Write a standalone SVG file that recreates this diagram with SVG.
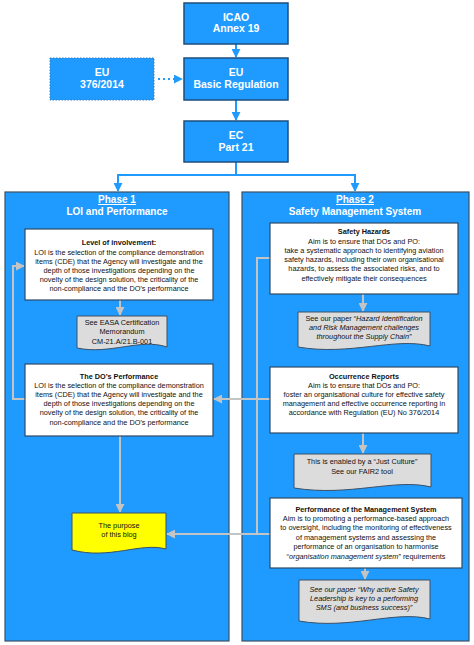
<svg xmlns="http://www.w3.org/2000/svg" width="474" height="645" viewBox="0 0 474 645">
<defs>
<style>
.top{fill:#1f9bff;stroke:#1d4e7c;stroke-width:1.5}
.panel{fill:#1f9bff;stroke:#3b5066;stroke-width:1.2}
.box{fill:#ffffff;stroke:#2e4a66;stroke-width:1.2}
.doc{fill:#dcdcdc;stroke:#3b5066;stroke-width:1}
.ydoc{fill:#ffff00;stroke:#3b5066;stroke-width:1}
.tw{font-family:"Liberation Sans",Arial,sans-serif;font-size:10.5px;font-weight:bold;fill:#ffffff;text-anchor:middle}
.tp{font-family:"Liberation Sans",Arial,sans-serif;font-size:10px;font-weight:bold;fill:#ffffff;text-anchor:middle}
.t{font-family:"Liberation Sans",Arial,sans-serif;font-size:7.3px;fill:#111111;text-anchor:middle}
.b{font-weight:bold}
.i{font-style:italic}
.blue{fill:none;stroke:#1f9bff;stroke-width:2}
.grey{fill:none;stroke:#c4c4c4;stroke-width:2}
</style>
<marker id="ab" viewBox="0 0 10 10" refX="9" refY="5" markerWidth="4.5" markerHeight="4.5" orient="auto" markerUnits="strokeWidth"><path d="M0,0 L10,5 L0,10 z" fill="#1f9bff"/></marker>
<marker id="ag" viewBox="0 0 10 10" refX="9" refY="5" markerWidth="4.5" markerHeight="4.5" orient="auto" markerUnits="strokeWidth"><path d="M0,0 L10,5 L0,10 z" fill="#c4c4c4"/></marker>
</defs>

<g id="phase1">
<rect class="panel" x="5" y="192" width="224" height="449"/>
<text class="tp" x="117" y="203" text-decoration="underline">Phase 1</text>
<text class="tp" x="117" y="215">LOI and Performance</text>
</g>
<g id="phase2">
<rect class="panel" x="242" y="192" width="227" height="449"/>
<text class="tp" x="355" y="203" text-decoration="underline">Phase 2</text>
<text class="tp" x="355" y="215">Safety Management System</text>
</g>

<g id="connectors">
<path class="blue" d="M236,44 V57" marker-end="url(#ab)"/>
<path class="blue" d="M236,100 V120" marker-end="url(#ab)"/>
<path class="blue" d="M158,79 H182" stroke-dasharray="2,3" marker-end="url(#ab)"/>
<path class="blue" d="M236,162 V175 H118 V191" marker-end="url(#ab)"/>
<path class="blue" d="M236,175 H355 V191" marker-end="url(#ab)"/>
<path class="grey" d="M120,300 V315" marker-end="url(#ag)"/>
<path class="grey" d="M120,436 V512" marker-end="url(#ag)"/>
<path class="grey" d="M25,399 H13 V266 H24" marker-end="url(#ag)"/>
<path class="grey" d="M363,294 V311" marker-end="url(#ag)"/>
<path class="grey" d="M363,433 V453" marker-end="url(#ag)"/>
<path class="grey" d="M365,568 V579" marker-end="url(#ag)"/>
<path class="grey" d="M270,258 H257 V534"/>
<path class="grey" d="M270,399 H214" marker-end="url(#ag)"/>
<path class="grey" d="M270,534 H167" marker-end="url(#ag)"/>
</g>

<g id="icao">
<rect class="top" x="184" y="3" width="104" height="41"/>
<text class="tw" x="236" y="21">ICAO</text>
<text class="tw" x="236" y="32">Annex 19</text>
</g>
<g id="eu-basic">
<rect class="top" x="184" y="58" width="104" height="42"/>
<text class="tw" x="236" y="76">EU</text>
<text class="tw" x="236" y="88">Basic Regulation</text>
</g>
<g id="eu-376">
<rect x="50" y="58" width="104" height="42" fill="#1f9bff" stroke="#3a7fc0" stroke-width="1" stroke-dasharray="1.5,1.5"/>
<text class="tw" x="102" y="76">EU</text>
<text class="tw" x="102" y="88">376/2014</text>
</g>
<g id="ec-part21">
<rect class="top" x="184" y="121" width="104" height="41"/>
<text class="tw" x="236" y="139">EC</text>
<text class="tw" x="236" y="151">Part 21</text>
</g>

<g id="level">
<rect class="box" x="25" y="229" width="188" height="71"/>
<text class="t b" x="119" y="244.5">Level of involvement:</text>
<text class="t" x="119" y="254.5">LOI is the selection of the compliance demonstration</text>
<text class="t" x="119" y="263.5">items (CDE) that the Agency will investigate and the</text>
<text class="t" x="119" y="272.5">depth of those investigations depending on the</text>
<text class="t" x="119" y="281.5">novelty of the design solution, the criticality of the</text>
<text class="t" x="119" y="291">non-compliance and the DO’s performance</text>
</g>
<g id="cm-doc">
<path class="doc" d="M77,316 H167 V347 C140,338 110,355 77,348 Z"/>
<text class="t" x="122" y="324.5">See EASA Certification</text>
<text class="t" x="122" y="334">Memorandum</text>
<text class="t" x="122" y="343.5">CM-21.A/21.B-001</text>
</g>
<g id="do-perf">
<rect class="box" x="25" y="364" width="188" height="72"/>
<text class="t b" x="119" y="378.5">The DO’s Performance</text>
<text class="t" x="119" y="387.5">LOI is the selection of the compliance demonstration</text>
<text class="t" x="119" y="396.5">items (CDE) that the Agency will investigate and the</text>
<text class="t" x="119" y="406">depth of those investigations depending on the</text>
<text class="t" x="119" y="415">novelty of the design solution, the criticality of the</text>
<text class="t" x="119" y="425">non-compliance and the DO’s performance</text>
</g>
<g id="purpose">
<path class="ydoc" d="M72,513 H166 V549 C140,542 110,560 72,550 Z"/>
<text class="t" x="119" y="527.5">The purpose</text>
<text class="t" x="119" y="536.5">of this blog</text>
</g>

<g id="safety-hazards">
<rect class="box" x="270" y="223" width="188" height="71"/>
<text class="t b" x="364" y="233.5">Safety Hazards</text>
<text class="t" x="364" y="243.5">Aim is to ensure that DOs and PO:</text>
<text class="t" x="364" y="252.5">take a systematic approach to identifying aviation</text>
<text class="t" x="364" y="261.5">safety hazards, including their own organisational</text>
<text class="t" x="364" y="271">hazards, to assess the associated risks, and to</text>
<text class="t" x="364" y="280.5">effectively mitigate their consequences</text>
</g>
<g id="hazard-doc">
<path class="doc" d="M298,312 H430 V346 C395,337 350,356 298,347 Z"/>
<text class="t" x="364" y="320.5">See our paper “<tspan class="i">Hazard Identification</tspan></text>
<text class="t i" x="364" y="329.5">and Risk Management challenges</text>
<text class="t i" x="364" y="339">throughout the Supply Chain”</text>
</g>
<g id="occurrence">
<rect class="box" x="270" y="367" width="188" height="66"/>
<text class="t b" x="364" y="378.5">Occurrence Reports</text>
<text class="t" x="364" y="387.5">Aim is to ensure that DOs and PO:</text>
<text class="t" x="364" y="396.5">foster an organisational culture for effective safety</text>
<text class="t" x="364" y="406">management and effective occurrence reporting in</text>
<text class="t" x="364" y="415">accordance with Regulation (EU) No 376/2014</text>
</g>
<g id="just-culture-doc">
<path class="doc" d="M294,454 H431 V487 C395,478 350,497 294,488 Z"/>
<text class="t" x="362" y="463.5">This is enabled by a “Just Culture”</text>
<text class="t" x="362" y="473.5">See our FAIR2 tool</text>
</g>
<g id="performance-ms">
<rect class="box" x="270" y="498" width="192" height="70"/>
<text class="t b" x="366" y="511.5">Performance of the Management System</text>
<text class="t" x="366" y="520.5">Aim is to promoting a performance-based approach</text>
<text class="t" x="366" y="530">to oversight, including the monitoring of effectiveness</text>
<text class="t" x="366" y="539.5">of management systems and assessing the</text>
<text class="t" x="366" y="549">performance of an organisation to harmonise</text>
<text class="t" x="366" y="558.5">“<tspan class="i">organisation management system</tspan>” requirements</text>
</g>
<g id="leadership-doc">
<path class="doc" d="M299,580 H430 V619 C395,610 350,630 299,621 Z"/>
<text class="t i" x="364" y="591.5">See our paper “Why active Safety</text>
<text class="t i" x="364" y="600.5">Leadership is key to a performing</text>
<text class="t i" x="364" y="609.5">SMS (and business success)”</text>
</g>
</svg>
